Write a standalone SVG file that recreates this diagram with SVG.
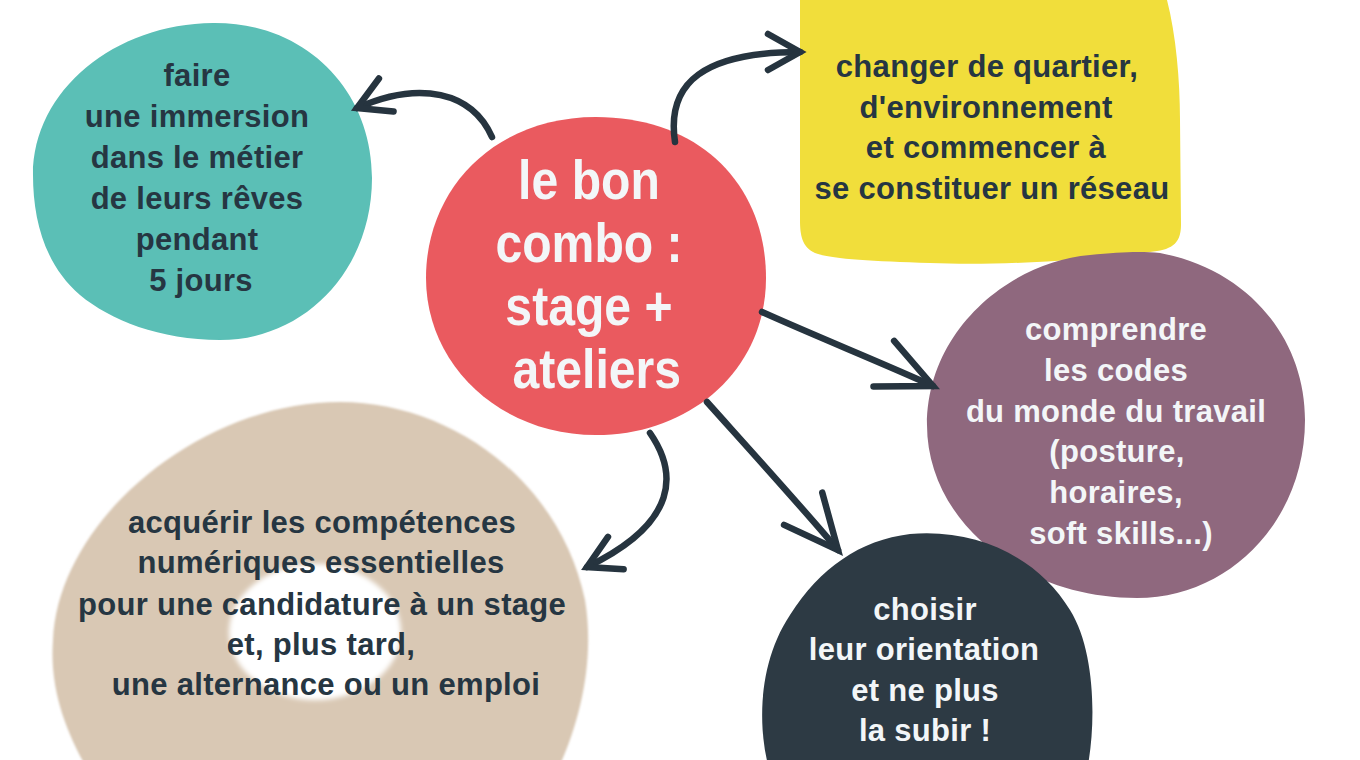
<svg xmlns="http://www.w3.org/2000/svg" width="1360" height="760" viewBox="0 0 1360 760">
<defs>
<style>
.t{font-family:"Liberation Sans",Arial,sans-serif;font-weight:bold;font-size:31px;text-anchor:middle;letter-spacing:0.3px}
.big{font-family:"Liberation Sans",Arial,sans-serif;font-weight:bold;font-size:56px;text-anchor:middle}
.dk{fill:#263642}
.wt{fill:#f3f6f8}
.shaft{fill:none;stroke:#26343f;stroke-width:6.5;stroke-linecap:round}
.head{fill:none;stroke:#26343f;stroke-width:6.5;stroke-linecap:round;stroke-linejoin:miter}
</style>
<filter id="soft" x="-10%" y="-10%" width="120%" height="120%"><feGaussianBlur stdDeviation="1.2"/></filter>
<filter id="hole" x="-30%" y="-30%" width="160%" height="160%"><feGaussianBlur stdDeviation="2.5"/></filter>
<marker id="hs" markerUnits="userSpaceOnUse" orient="auto" overflow="visible" markerWidth="1" markerHeight="1" refX="0" refY="0">
<path class="head" d="M-32,-18 L0,0 L-32,18"/>
</marker>
<marker id="hl" markerUnits="userSpaceOnUse" orient="auto" overflow="visible" markerWidth="1" markerHeight="1" refX="0" refY="0">
<path class="head" d="M-54,-25 L0,0 L-54,25"/>
</marker>
</defs>
<rect width="1360" height="760" fill="#ffffff"/>

<g id="node-beige">
<path d="M340,402 C450,402 560,480 585,600 C595,660 580,720 560,765 L85,765 C60,720 50,680 53,640 C58,520 200,402 340,402 Z" fill="#d9c8b4" filter="url(#soft)"/>
<ellipse cx="315" cy="632" rx="86" ry="68" fill="#ffffff" filter="url(#hole)"/>
<text class="t dk" x="322" y="533">acquérir les compétences</text>
<text class="t dk" x="321" y="573">numériques essentielles</text>
<text class="t dk" x="322" y="615">pour une candidature à un stage</text>
<text class="t dk" x="321" y="655">et, plus tard,</text>
<text class="t dk" x="326" y="695">une alternance ou un emploi</text>
</g>

<g id="node-teal">
<path d="M213,23 C305,22 372,90 372,178 C372,270 305,340 220,340 C160,340 110,320 80,295 C45,265 33,220 33,175 C33,90 115,24 213,23 Z" fill="#5bbfb6"/>
<text class="t dk" x="197" y="86">faire</text>
<text class="t dk" x="197" y="127">une immersion</text>
<text class="t dk" x="197" y="168">dans le métier</text>
<text class="t dk" x="197" y="209">de leurs rêves</text>
<text class="t dk" x="197" y="250">pendant</text>
<text class="t dk" x="201" y="291">5 jours</text>
</g>

<g id="node-yellow">
<path d="M800,0 L1167,0 C1176,35 1180,80 1180,120 L1181,225 C1181,245 1170,250 1150,252 C1090,260 1000,266 930,263 C870,261 830,259 815,253 C802,247 800,235 800,220 Z" fill="#f1de3b"/>
<text class="t dk" x="987" y="77">changer de quartier,</text>
<text class="t dk" x="986" y="118">d'environnement</text>
<text class="t dk" x="986" y="158">et commencer à</text>
<text class="t dk" x="992" y="199">se constituer un réseau</text>
</g>

<g id="node-purple">
<path d="M1160,253 C1250,270 1305,340 1305,420 C1305,520 1230,598 1137,598 C1020,598 927,520 927,425 C927,330 1010,262 1090,255 C1120,252 1140,251 1160,253 Z" fill="#8f687e"/>
<text class="t wt" x="1116" y="340">comprendre</text>
<text class="t wt" x="1116" y="381">les codes</text>
<text class="t wt" x="1116" y="422">du monde du travail</text>
<text class="t wt" x="1117" y="462">(posture,</text>
<text class="t wt" x="1116" y="503">horaires,</text>
<text class="t wt" x="1121" y="544">soft skills...)</text>
</g>

<g id="node-dark">
<path d="M768,765 C757,720 760,660 790,615 C820,568 860,540 910,534 C980,528 1040,560 1070,610 C1095,650 1096,720 1088,765 Z" fill="#2d3a44"/>
<text class="t wt" x="925" y="620">choisir</text>
<text class="t wt" x="924" y="660">leur orientation</text>
<text class="t wt" x="925" y="701">et ne plus</text>
<text class="t wt" x="925" y="741">la subir !</text>
</g>

<g id="node-center">
<path d="M596,117 C700,117 766,185 766,278 C766,370 690,435 596,435 C500,435 426,365 426,278 C426,188 495,117 596,117 Z" fill="#ea5a5f"/>
<g transform="translate(589,0) scale(0.86,1)">
<text class="big wt" x="0" y="199">le bon</text>
<text class="big wt" x="0" y="262">combo :</text>
<text class="big wt" x="0" y="325">stage +</text>
<text class="big wt" x="9" y="388">ateliers</text>
</g>
</g>

<g id="connectors">
<path class="shaft" d="M492,137 C472,92 420,80 357,108" marker-end="url(#hs)"/>
<path class="shaft" d="M675,142 C666,82 705,52 800,52" marker-end="url(#hs)"/>
<path class="shaft" d="M762,312 C820,338 880,362 933,386" marker-end="url(#hl)"/>
<path class="shaft" d="M707,402 C750,450 800,505 838,550" marker-end="url(#hl)"/>
<path class="shaft" d="M650,433 C677,472 680,522 587,567" marker-end="url(#hs)"/>
</g>
</svg>
